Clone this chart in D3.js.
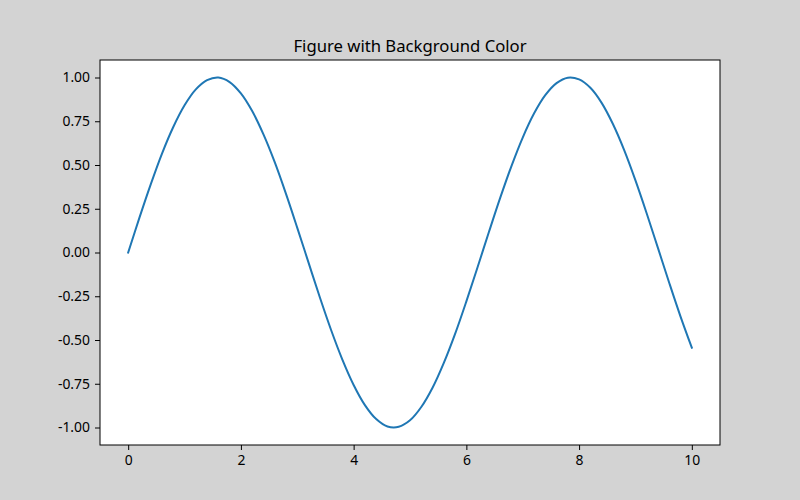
<!DOCTYPE html>
<html>
<head>
<meta charset="utf-8">
<script src="https://cdn.jsdelivr.net/npm/d3@7"></script>
<style>
  body { margin: 0; background: #d3d3d3; }
  svg text { font-family: "Noto Sans", "DejaVu Sans", sans-serif; fill: #000; }
</style>
</head>
<body>
<script>
// Data
var xValues = [0, 0.2, 0.4, 0.6, 0.8, 1.0, 1.2, 1.4, 1.6, 1.8, 2.0, 2.2, 2.4, 2.6, 2.8, 3.0,
    3.2, 3.4, 3.6, 3.8, 4.0, 4.2, 4.4, 4.6, 4.8, 5.0, 5.2, 5.4, 5.6, 5.8, 6.0, 6.2, 6.4,
    6.6, 6.8, 7.0, 7.2, 7.4, 7.6, 7.8, 8.0, 8.2, 8.4, 8.6, 8.8, 9.0, 9.2, 9.4, 9.6, 9.8, 10.0];
var yValues = [0, 0.199, 0.389, 0.565, 0.717, 0.841, 0.932, 0.985, 1.000, 0.974, 0.909,
    0.808, 0.675, 0.516, 0.335, 0.141, -0.058, -0.256, -0.443, -0.612, -0.757, -0.872,
    -0.952, -0.994, -0.996, -0.959, -0.883, -0.773, -0.631, -0.465, -0.279, -0.083, 0.117,
    0.312, 0.494, 0.657, 0.794, 0.899, 0.968, 0.999, 0.989, 0.941, 0.855, 0.734, 0.585,
    0.412, 0.223, 0.025, -0.174, -0.366, -0.544];
var xTicks = [0, 2, 4, 6, 8, 10];
var yTicks = [-1.00, -0.75, -0.50, -0.25, 0.00, 0.25, 0.50, 0.75, 1.00];
var chartTitle = "Figure with Background Color";

var svgWidth = 800;
var svgHeight = 500;
var margin = { top: 60, right: 80, bottom: 55, left: 100 };
var chartWidth = svgWidth - margin.left - margin.right;
var chartHeight = svgHeight - margin.top - margin.bottom;

var svg = d3.select("body")
    .append("svg")
    .attr("width", svgWidth)
    .attr("height", svgHeight);

svg.append("rect")
    .attr("width", svgWidth)
    .attr("height", svgHeight)
    .attr("fill", "#d3d3d3");

var chartGroup = svg.append("g")
    .attr("transform", `translate(${margin.left}, ${margin.top})`);

chartGroup.append("rect")
    .attr("width", chartWidth)
    .attr("height", chartHeight)
    .attr("fill", "#ffffff");

var xScale = d3.scaleLinear().domain([-0.5, 10.5]).range([0, chartWidth]);
var yScale = d3.scaleLinear().domain([-1.1, 1.1]).range([chartHeight, 0]);

var points = xValues.map((x, i) => [x, yValues[i]]);

var line = d3.line()
    .x(d => xScale(d[0]))
    .y(d => yScale(d[1]))
    .curve(d3.curveCatmullRom);

chartGroup.append("path")
    .datum(points)
    .attr("fill", "none")
    .attr("stroke", "#1f77b4")
    .attr("stroke-width", 2)
    .attr("stroke-linecap", "square")
    .attr("d", line);

var bottomAxis = d3.axisBottom(xScale)
    .tickValues(xTicks)
    .tickSize(5)
    .tickPadding(5)
    .tickFormat(d3.format("d"));
var leftAxis = d3.axisLeft(yScale)
    .tickValues(yTicks)
    .tickSize(5)
    .tickPadding(5)
    .tickFormat(d => d3.format(".2f")(d).replace("−", "-"));

var xAxis = chartGroup.append("g")
    .attr("transform", `translate(0, ${chartHeight})`)
    .call(bottomAxis);
var yAxis = chartGroup.append("g")
    .call(leftAxis);

[xAxis, yAxis].forEach(function (ax) {
    ax.select(".domain").remove();
    ax.selectAll("text").style("font-size", "13.9px").attr("fill", "#000");
    ax.selectAll("line").attr("stroke", "#000").attr("stroke-width", 1);
});

// spines
chartGroup.append("rect")
    .attr("width", chartWidth)
    .attr("height", chartHeight)
    .attr("fill", "none")
    .attr("stroke", "#000")
    .attr("stroke-width", 1);

chartGroup.append("text")
    .attr("x", chartWidth / 2)
    .attr("y", -8)
    .attr("text-anchor", "middle")
    .style("font-size", "16.7px")
    .text(chartTitle);
</script>
</body>
</html>
